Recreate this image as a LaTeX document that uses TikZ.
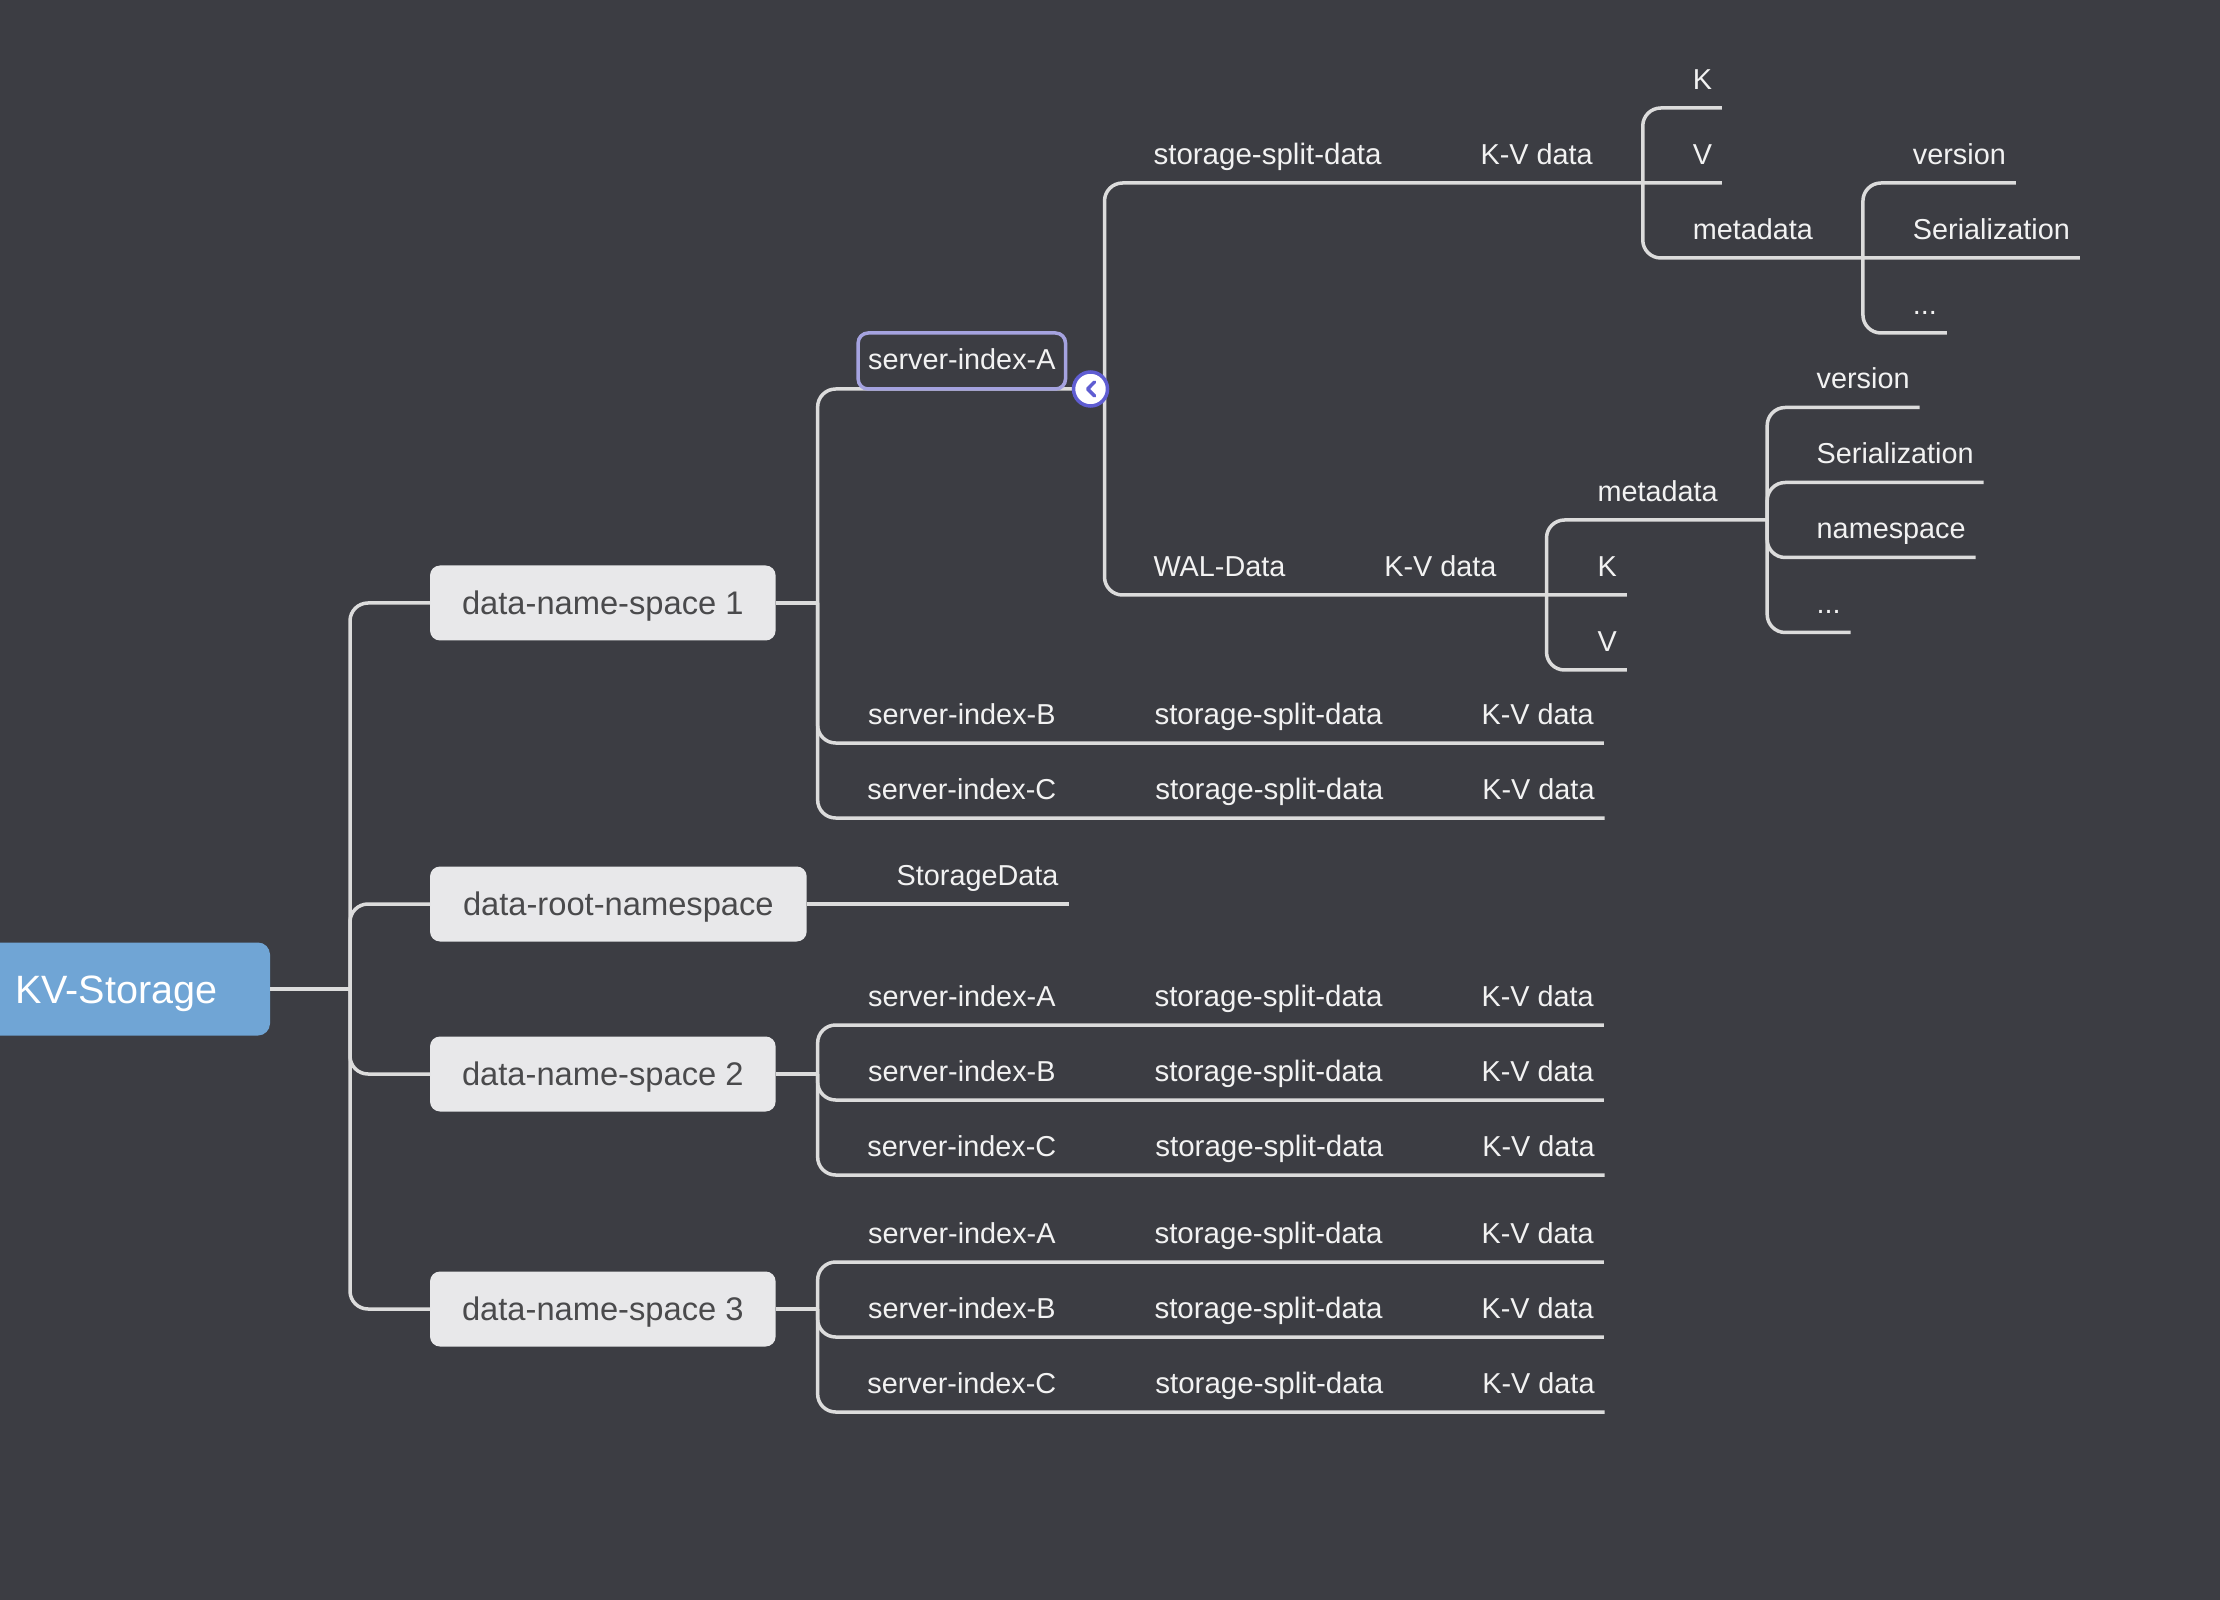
\documentclass[tikz,border=0pt]{standalone}
\usepackage{fontspec}
\setmainfont{Liberation Sans}
\usepackage{xcolor}
\usetikzlibrary{positioning, calc, backgrounds}
\definecolor{bgdark}{HTML}{3C3D43}
\definecolor{linegray}{HTML}{DCDCDC}
\definecolor{rootblue}{HTML}{70A5D5}
\definecolor{spacegray}{HTML}{E8E8EA}
\definecolor{spacetext}{HTML}{4A4A4C}
\definecolor{pickline}{HTML}{A5A3E0}
\definecolor{pickring}{HTML}{5F5DD2}

\begin{document}
\begin{tikzpicture}[
  node distance=0.15cm and 0.79cm,
  every node/.style={outer sep=0pt},
  link/.style={draw=linegray, line width=0.035cm, rounded corners=0.18cm},
  root/.style={fill=rootblue, text=white, rounded corners=0.12cm, inner sep=0pt, minimum height=0.93cm, text width=2.9cm, text height=0.29cm, text depth=0cm, align=left, font=\fontsize{11.25}{13}\selectfont},
  space/.style={fill=spacegray, text=spacetext, rounded corners=0.1cm, inner xsep=0.32cm, inner ysep=0pt, minimum height=0.75cm, text height=0.23cm, text depth=0cm, font=\fontsize{9.3}{11}\selectfont},
  topic/.style={text=white!95!black, inner xsep=0.1cm, inner ysep=0pt, minimum height=0.6cm, text height=0.27cm, text depth=0.04cm, font=\fontsize{8.2}{10}\selectfont},
  split/.style={topic, font=\fontsize{8.4}{10}\selectfont},
  picked/.style={topic, draw=pickline, line width=0.035cm, rounded corners=0.1cm, minimum height=0.56cm, text height=0.22cm},
  toggle/.style={circle, draw=pickring, line width=0.035cm, fill=white, inner sep=0pt, minimum size=0.34cm}
]
\begin{pgfonlayer}{background}
\fill[bgdark] (0,0) rectangle (22.2,-16);
\end{pgfonlayer}
\useasboundingbox (0,0) rectangle (22.2,-16);

% ROOT AND NAMESPACES
\node[root, anchor=west] (root) at (-0.2,-9.89) {\hspace*{0.35cm}KV-Storage};
\node[space, anchor=west] (ns1) at (4.3,-6.03) {data-name-space 1};
\node[space, anchor=west, inner xsep=0.33cm] (nsroot) at (4.3,-9.04) {data-root-namespace};
\node[space, anchor=west] (ns2) at (4.3,-10.74) {data-name-space 2};
\node[space, anchor=west] (ns3) at (4.3,-13.09) {data-name-space 3};

\coordinate[right=0.8cm of root.east] (forkroot);
\draw[link] (root.east) -- (forkroot);
\draw[link] (forkroot) |- (ns1.west);
\draw[link] (forkroot) |- (nsroot.west);
\draw[link] (forkroot) |- (ns2.west);
\draw[link] (forkroot) |- (ns3.west);

% NAMESPACE 1, SERVER A
\node[picked, right=0.825cm of ns1, yshift=2.42cm] (idx1a) {server-index-A};
\node[split, right=0.78cm of idx1a, yshift=2.08cm] (split1a) {storage-split-data};
\node[topic, right=of split1a] (kv1a) {K-V data};
\node[topic, right=0.8cm of kv1a] (v1a) {V};
\node[topic, above=of v1a.north west, anchor=south west] (k1a) {K};
\node[topic, below=of v1a.south west, anchor=north west] (meta1a) {metadata};
\node[topic, right=0.8cm of meta1a] (ser1a) {Serialization};
\node[topic, above=of ser1a.north west, anchor=south west] (ver1a) {version};
\node[topic, below=of ser1a.south west, anchor=north west] (etc1a) {...};

\node[topic, right=0.78cm of idx1a, yshift=-2.04cm] (wal1a) {WAL-Data};
\node[topic, right=of wal1a] (walkv) {K-V data};
\node[topic, right=0.81cm of walkv] (walk) {K};
\node[topic, above=of walk.north west, anchor=south west] (walmeta) {metadata};
\node[topic, below=of walk.south west, anchor=north west] (walv) {V};
\node[topic, right=0.79cm of walmeta, yshift=0.375cm] (walser) {Serialization};
\node[topic, above=of walser.north west, anchor=south west] (walver) {version};
\node[topic, below=of walser.south west, anchor=north west] (walns) {namespace};
\node[topic, below=of walns.south west, anchor=north west] (waletc) {...};

\coordinate[right=0.42cm of ns1.east] (fork1);
\coordinate[right=0.39cm of idx1a.south east] (forkidx);
\coordinate[right=0.4cm of kv1a.south east] (forkkv);
\coordinate[right=0.4cm of meta1a.south east] (forkmeta);
\coordinate[right=0.4cm of walkv.south east] (forkwal);
\coordinate[right=0.395cm of walmeta.south east] (forkwalmeta);

\begin{pgfonlayer}{background}
\draw[link] (ns1.east) -- (fork1);
\draw[link] (fork1) |- (idx1a.south west) -- (idx1a.south east) -- (forkidx);
\end{pgfonlayer}
\draw[link] (forkidx) |- (split1a.south west) -- (split1a.south east) -- (kv1a.south west) -- (kv1a.south east) -- (v1a.south west) -- (v1a.south east);
\draw[link] (forkkv) |- (k1a.south west) -- (k1a.south east);
\draw[link] (forkkv) |- (meta1a.south west) -- (meta1a.south east) -- (ser1a.south west) -- (ser1a.south east);
\draw[link] (forkmeta) |- (ver1a.south west) -- (ver1a.south east);
\draw[link] (forkmeta) |- (etc1a.south west) -- (etc1a.south east);

\draw[link] (forkidx) |- (wal1a.south west) -- (wal1a.south east) -- (walkv.south west) -- (walkv.south east) -- (walk.south west) -- (walk.south east);
\draw[link] (forkwal) |- (walmeta.south west) -- (walmeta.south east) -- (forkwalmeta);
\draw[link] (forkwal) |- (walv.south west) -- (walv.south east);
\draw[link] (forkwalmeta) |- (walver.south west) -- (walver.south east);
\draw[link] (forkwalmeta) |- (walser.south west) -- (walser.south east);
\draw[link] (forkwalmeta) |- (walns.south west) -- (walns.south east);
\draw[link] (forkwalmeta) |- (waletc.south west) -- (waletc.south east);

\node[toggle] (fold) at ($(idx1a.south east)+(0.25,0)$) {};
\draw[pickring, line width=0.035cm, line cap=round, line join=round] ($(fold)+(0.04,0.07)$) -- ($(fold)+(-0.03,0)$) -- ($(fold)+(0.04,-0.07)$);

% NAMESPACE 1, SERVERS B AND C
\node[topic, right=0.825cm of ns1, yshift=-1.1cm] (idx1b) {server-index-B};
\node[split, right=of idx1b] (split1b) {storage-split-data};
\node[topic, right=of split1b] (kv1b) {K-V data};
\node[topic, below=of idx1b] (idx1c) {server-index-C};
\node[split, right=of idx1c] (split1c) {storage-split-data};
\node[topic, right=of split1c] (kv1c) {K-V data};
\draw[link] (fork1) |- (idx1b.south west) -- (idx1b.south east) -- (split1b.south west) -- (split1b.south east) -- (kv1b.south west) -- (kv1b.south east);
\draw[link] (fork1) |- (idx1c.south west) -- (idx1c.south east) -- (split1c.south west) -- (split1c.south east) -- (kv1c.south west) -- (kv1c.south east);

% ROOT NAMESPACE
\node[topic, right=0.8cm of nsroot, yshift=0.3cm] (stor) {StorageData};
\draw[link] (nsroot.east) -- (stor.south west) -- (stor.south east);

% NAMESPACE 2
\node[topic, right=0.825cm of ns2, yshift=0.04cm] (idx2b) {server-index-B};
\node[split, right=of idx2b] (split2b) {storage-split-data};
\node[topic, right=of split2b] (kv2b) {K-V data};
\node[topic, above=of idx2b] (idx2a) {server-index-A};
\node[split, right=of idx2a] (split2a) {storage-split-data};
\node[topic, right=of split2a] (kv2a) {K-V data};
\node[topic, below=of idx2b] (idx2c) {server-index-C};
\node[split, right=of idx2c] (split2c) {storage-split-data};
\node[topic, right=of split2c] (kv2c) {K-V data};
\coordinate[right=0.42cm of ns2.east] (fork2);
\draw[link] (ns2.east) -- (fork2);
\draw[link] (fork2) |- (idx2a.south west) -- (idx2a.south east) -- (split2a.south west) -- (split2a.south east) -- (kv2a.south west) -- (kv2a.south east);
\draw[link] (fork2) |- (idx2b.south west) -- (idx2b.south east) -- (split2b.south west) -- (split2b.south east) -- (kv2b.south west) -- (kv2b.south east);
\draw[link] (fork2) |- (idx2c.south west) -- (idx2c.south east) -- (split2c.south west) -- (split2c.south east) -- (kv2c.south west) -- (kv2c.south east);

% NAMESPACE 3
\node[topic, right=0.825cm of ns3, yshift=0.02cm] (idx3b) {server-index-B};
\node[split, right=of idx3b] (split3b) {storage-split-data};
\node[topic, right=of split3b] (kv3b) {K-V data};
\node[topic, above=of idx3b] (idx3a) {server-index-A};
\node[split, right=of idx3a] (split3a) {storage-split-data};
\node[topic, right=of split3a] (kv3a) {K-V data};
\node[topic, below=of idx3b] (idx3c) {server-index-C};
\node[split, right=of idx3c] (split3c) {storage-split-data};
\node[topic, right=of split3c] (kv3c) {K-V data};
\coordinate[right=0.42cm of ns3.east] (fork3);
\draw[link] (ns3.east) -- (fork3);
\draw[link] (fork3) |- (idx3a.south west) -- (idx3a.south east) -- (split3a.south west) -- (split3a.south east) -- (kv3a.south west) -- (kv3a.south east);
\draw[link] (fork3) |- (idx3b.south west) -- (idx3b.south east) -- (split3b.south west) -- (split3b.south east) -- (kv3b.south west) -- (kv3b.south east);
\draw[link] (fork3) |- (idx3c.south west) -- (idx3c.south east) -- (split3c.south west) -- (split3c.south east) -- (kv3c.south west) -- (kv3c.south east);

\end{tikzpicture}
\end{document}
